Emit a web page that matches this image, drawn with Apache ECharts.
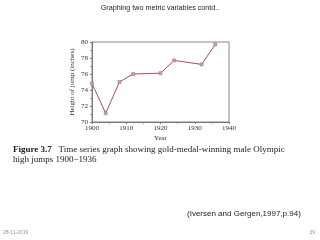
<!DOCTYPE html>
<html><head><meta charset="utf-8">
<script src="https://cdn.jsdelivr.net/npm/echarts@6/dist/echarts.min.js"></script>
<style>html,body{margin:0;padding:0;background:#fff}#c{width:320px;height:240px}</style>
</head><body><div id="c"></div>
<script>
var years = [1900, 1904, 1908, 1912, 1920, 1924, 1932, 1936];
var heights = [74.8, 71.1, 75.0, 76.0, 76.1, 77.7, 77.2, 79.7];
var xTicks = [1900, 1910, 1920, 1930, 1940];
var yTicks = [70, 72, 74, 76, 78, 80];

var serif = '"Liberation Serif","DejaVu Serif",serif';
var sans = '"Liberation Sans",Arial,sans-serif';
var chart = echarts.init(document.getElementById('c'), null, {renderer:'canvas'});
chart.setOption({
  animation:false,
  backgroundColor:'#fff',
  title:[
    {text:'Graphing two metric variables contd..', left:'center', top:0, textStyle:{fontFamily:sans, fontSize:7.2, fontWeight:'normal', color:'#222'}},
    {text:'{b|Figure 3.7}   Time series graph showing gold-medal-winning male Olympic\nhigh jumps 1900\u22121936', left:8, top:140,
      textStyle:{fontFamily:serif, fontSize:9, fontWeight:'normal', color:'#222', lineHeight:9.5, rich:{b:{fontFamily:serif, fontSize:9, fontWeight:'bold', color:'#222'}}}},
    {text:'(Iversen and Gergen,1997,p.94)', left:182, top:205, textStyle:{fontFamily:sans, fontSize:8, fontWeight:'normal', color:'#222'}},
    {text:'28-11-2019', left:-2, top:225, textStyle:{fontFamily:sans, fontSize:5, fontWeight:'normal', color:'#999'}},
    {text:'39', right:0, top:225, textStyle:{fontFamily:sans, fontSize:5, fontWeight:'normal', color:'#999'}}
  ],
  grid:{left:92, top:42, width:137, height:80, show:true, borderColor:'#888', borderWidth:1, containLabel:false},
  xAxis:{type:'value', min:1900, max:1940, interval:10,
    name:'Year', nameLocation:'middle', nameGap:13, nameTextStyle:{fontFamily:serif, fontSize:7, color:'#333'},
    axisLine:{lineStyle:{color:'#777'}}, axisTick:{show:true, length:2, lineStyle:{color:'#777'}},
    minorTick:{show:true, splitNumber:2, length:1.5, lineStyle:{color:'#777'}},
    splitLine:{show:false},
    axisLabel:{fontFamily:serif, fontSize:7, color:'#333', margin:3, formatter:function(v){return xTicks.indexOf(v)>=0?String(v):'';}}},
  yAxis:{type:'value', min:70, max:80, interval:2,
    name:'Height of jump (inches)', nameLocation:'middle', nameGap:16, nameRotate:90, nameTextStyle:{fontFamily:serif, fontSize:7, color:'#333'},
    axisLine:{show:true, lineStyle:{color:'#777'}}, axisTick:{show:true, length:2, lineStyle:{color:'#777'}},
    minorTick:{show:true, splitNumber:2, length:1.5, lineStyle:{color:'#777'}},
    splitLine:{show:false},
    axisLabel:{fontFamily:serif, fontSize:7, color:'#333', margin:4, formatter:function(v){return yTicks.indexOf(v)>=0?String(v):'';}}},
  series:[{type:'line', data:years.map(function(y,i){return [y, heights[i]];}),
    symbol:'rect', symbolSize:3, itemStyle:{color:'#c9a6ae', borderColor:'#8a6a70', borderWidth:0.5},
    lineStyle:{color:'#b04b5e', width:1}}]
});
</script></body></html>
